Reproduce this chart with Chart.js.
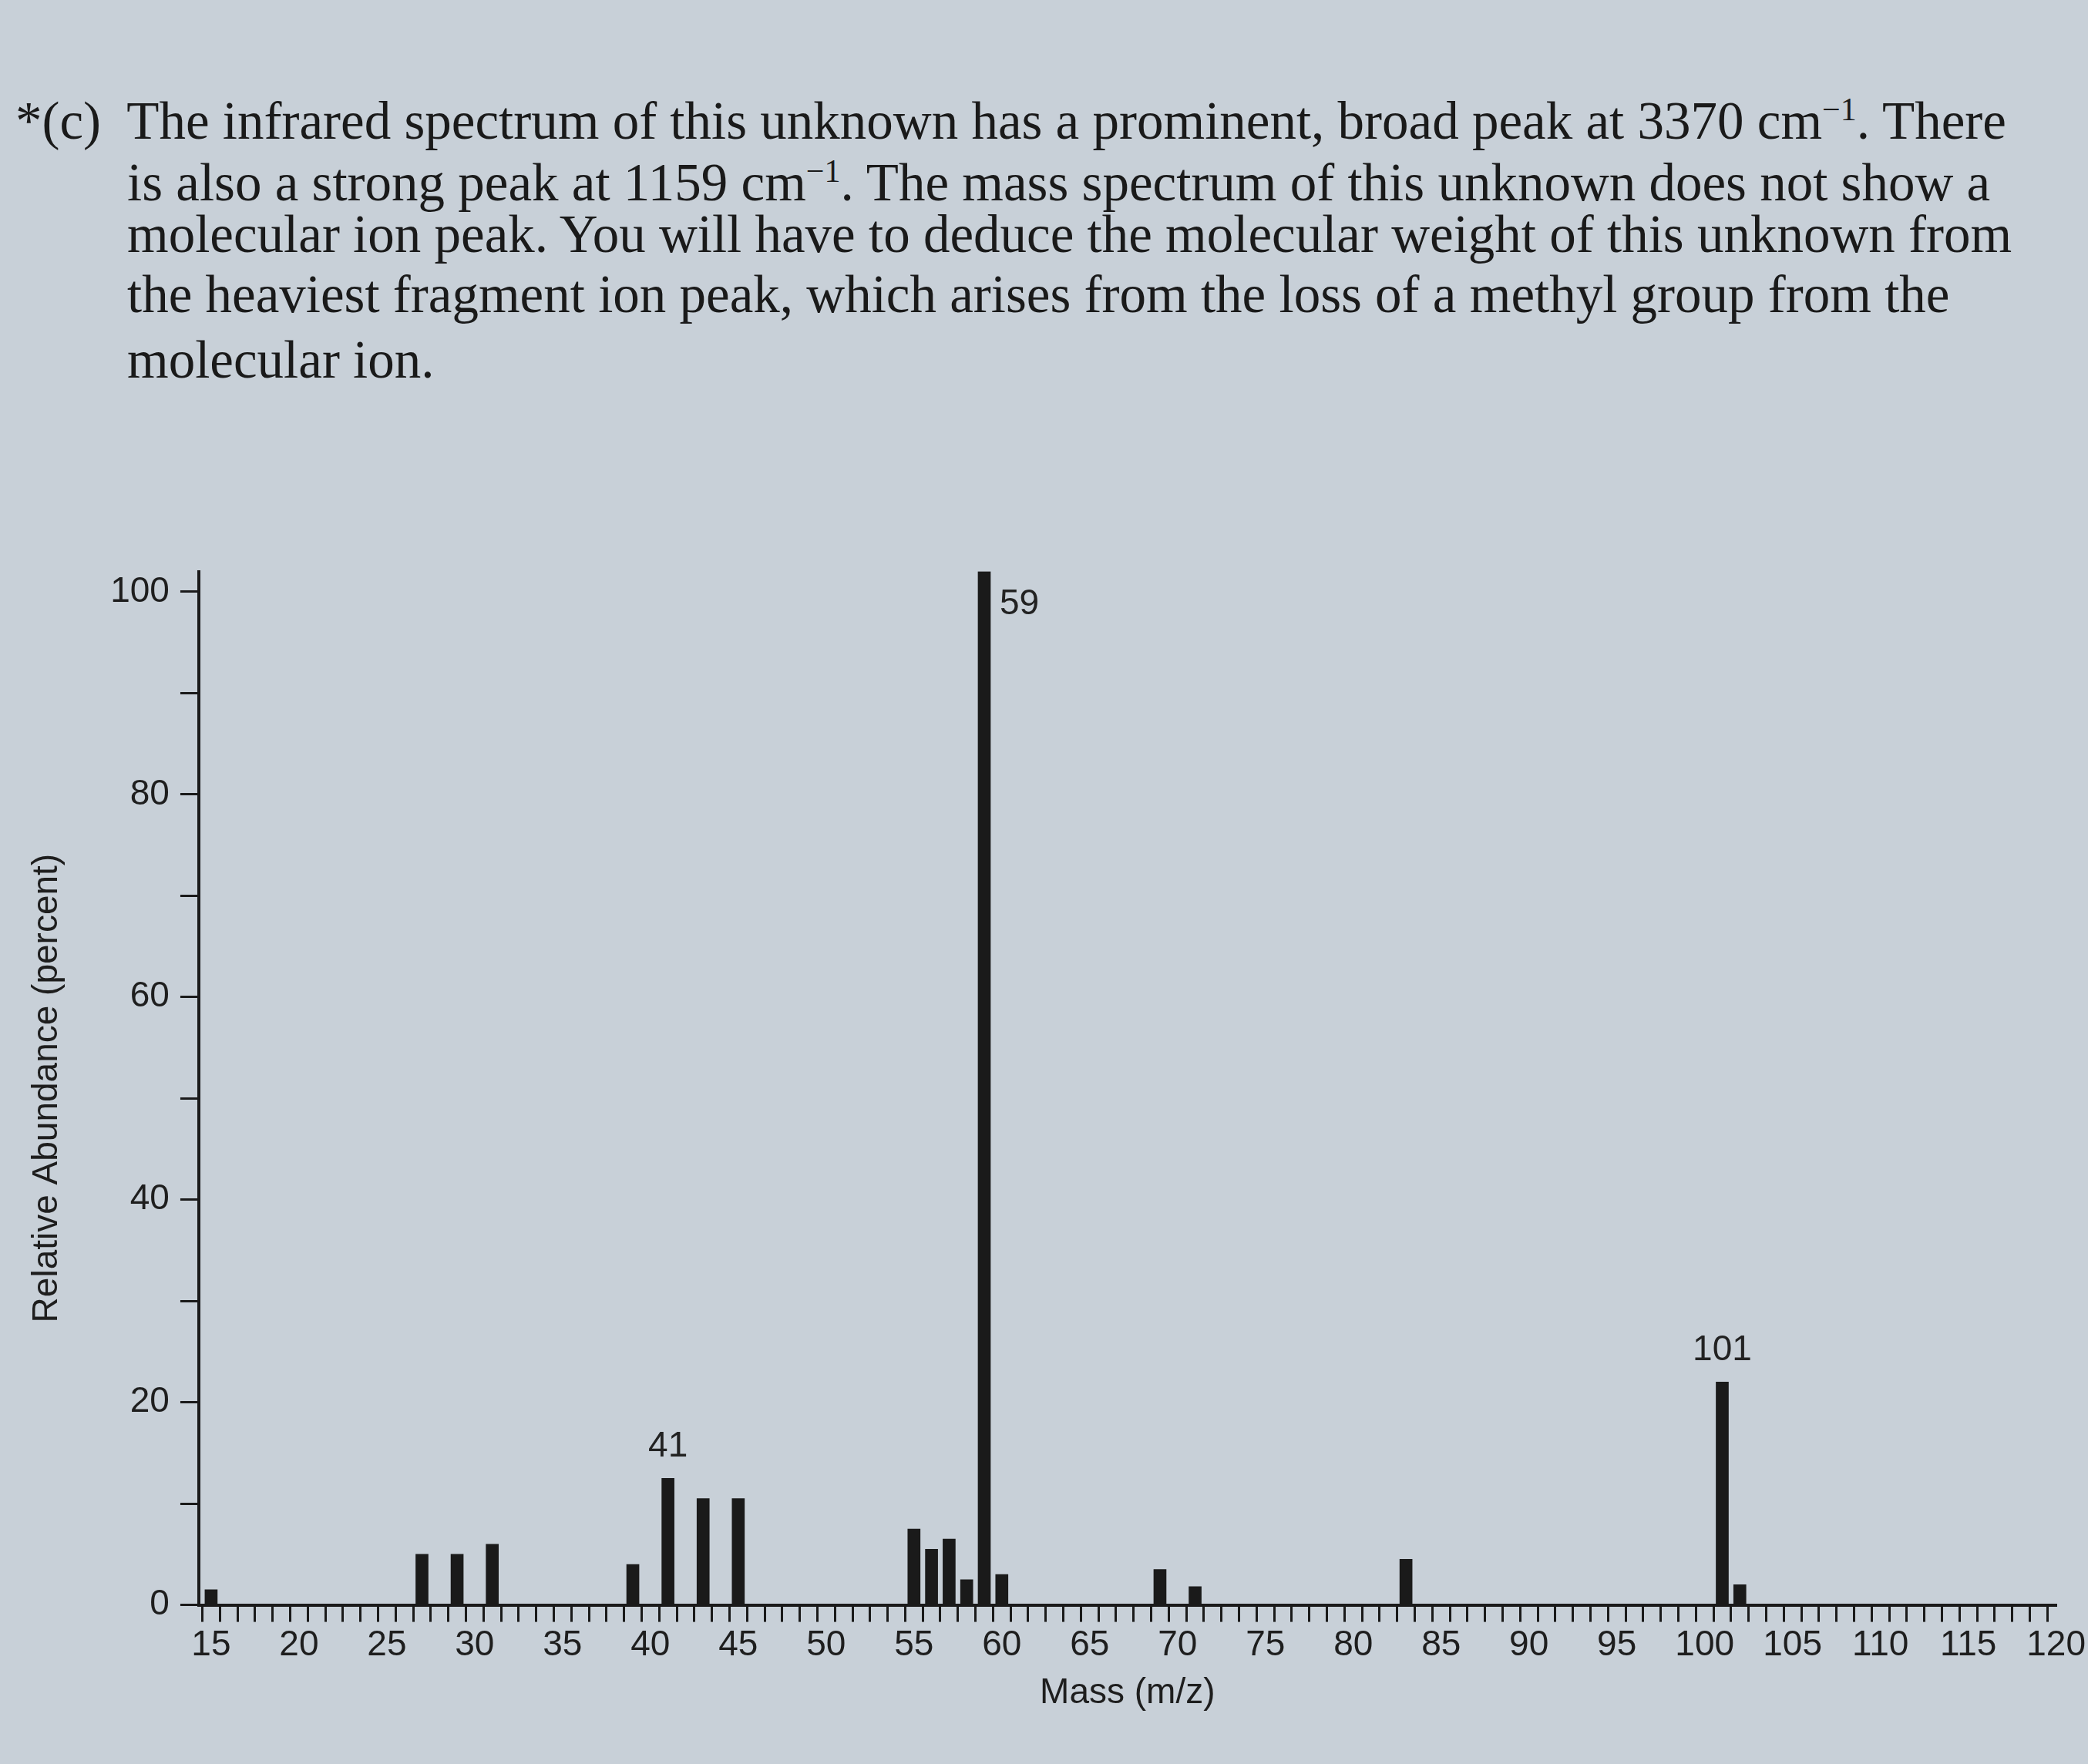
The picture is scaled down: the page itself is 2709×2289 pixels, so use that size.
<!DOCTYPE html>
<html><head><meta charset="utf-8">
<script src="https://cdn.jsdelivr.net/npm/chart.js@4"></script>
<style>
html,body{margin:0;padding:0;background:#c8d0d8;width:2709px;height:2289px;overflow:hidden}
#txt{position:absolute;left:20px;top:40px;width:2680px;font-family:"Liberation Serif",serif;font-size:69px;line-height:84px;color:#1a1a1a}
#txt .l{position:absolute;white-space:nowrap}
#wrap{position:absolute;left:0;top:700px;width:2709px;height:1589px}
</style></head><body>
<div id="txt">
<div class="l" style="left:0;top:60px">*(c)&nbsp; The infrared spectrum of this unknown has a prominent, broad peak at 3370 cm<sup style="font-size:42px">−1</sup>. There</div>
<div class="l" style="left:145px;top:140px">is also a strong peak at 1159 cm<sup style="font-size:42px">−1</sup>. The mass spectrum of this unknown does not show a</div>
<div class="l" style="left:145px;top:222px">molecular ion peak. You will have to deduce the molecular weight of this unknown from</div>
<div class="l" style="left:145px;top:300px">the heaviest fragment ion peak, which arises from the loss of a methyl group from the</div>
<div class="l" style="left:145px;top:385px">molecular ion.</div>
</div>
<div id="wrap"><canvas id="c"></canvas></div>
<script>
const masses=[15,27,29,31,39,41,43,45,55,56,57,58,59,60,69,71,83,101,102];
const abundance=[1.5,5,5,6,4,12.5,10.5,10.5,7.5,5.5,6.5,2.5,102,3,3.5,1.8,4.5,22,2];
const peakLabels=[41,59,101];
const xTickStep=5, yTickLabels=[0,20,40,60,80,100];
const labelPlugin={id:'pk',afterDatasetsDraw(ch){
 const ctx=ch.ctx,xs=ch.scales.x,ys=ch.scales.y;ctx.save();
 ctx.font='46px "Liberation Sans",Arial';ctx.fillStyle='#222';ctx.textBaseline='bottom';
 peakLabels.forEach(m=>{const i=masses.indexOf(m);const px=xs.getPixelForValue(m);
  if(m===59){ctx.textAlign='left';ctx.fillText(String(m),px+20,ys.getPixelForValue(97));}
  else{ctx.textAlign='center';ctx.fillText(String(m),px,ys.getPixelForValue(abundance[i])-18);}});
 ctx.restore();}};
new Chart(document.getElementById('c'),{type:'bar',
 data:{datasets:[{data:masses.map((m,i)=>({x:m,y:abundance[i]})),backgroundColor:'#1a1a1a',barThickness:16}]},
 options:{responsive:true,maintainAspectRatio:false,animation:false,
  layout:{padding:{left:30,right:40,top:30,bottom:60}},
  plugins:{legend:{display:false},tooltip:{enabled:false}},
  scales:{
   x:{type:'linear',min:14.3,max:120,offset:false,
    afterBuildTicks(s){const t=[];for(let v=15;v<=120;v++)t.push({value:v});s.ticks=t;},
    ticks:{autoSkip:false,maxRotation:0,color:'#1e1e1e',font:{size:46,family:'"Liberation Sans",Arial'},
     callback:v=>v%xTickStep===0?String(v):''},
    grid:{drawOnChartArea:false,color:'#1a1a1a',tickLength:22,lineWidth:3},
    border:{color:'#1a1a1a',width:4},
    title:{display:true,text:'Mass (m/z)',color:'#1e1e1e',font:{size:46,family:'"Liberation Sans",Arial'}}},
   y:{min:0,max:102,
    afterBuildTicks(s){const t=[];for(let v=0;v<=100;v+=10)t.push({value:v});s.ticks=t;},
    ticks:{autoSkip:false,padding:14,color:'#1e1e1e',font:{size:46,family:'"Liberation Sans",Arial'},
     callback:v=>yTickLabels.includes(v)?String(v):''},
    grid:{drawOnChartArea:false,color:'#1a1a1a',tickLength:24,lineWidth:3},
    border:{color:'#1a1a1a',width:4},
    title:{display:true,text:'Relative Abundance (percent)',padding:{bottom:40},color:'#1e1e1e',font:{size:46,family:'"Liberation Sans",Arial'}}}
  }},plugins:[labelPlugin]});
</script></body></html>
